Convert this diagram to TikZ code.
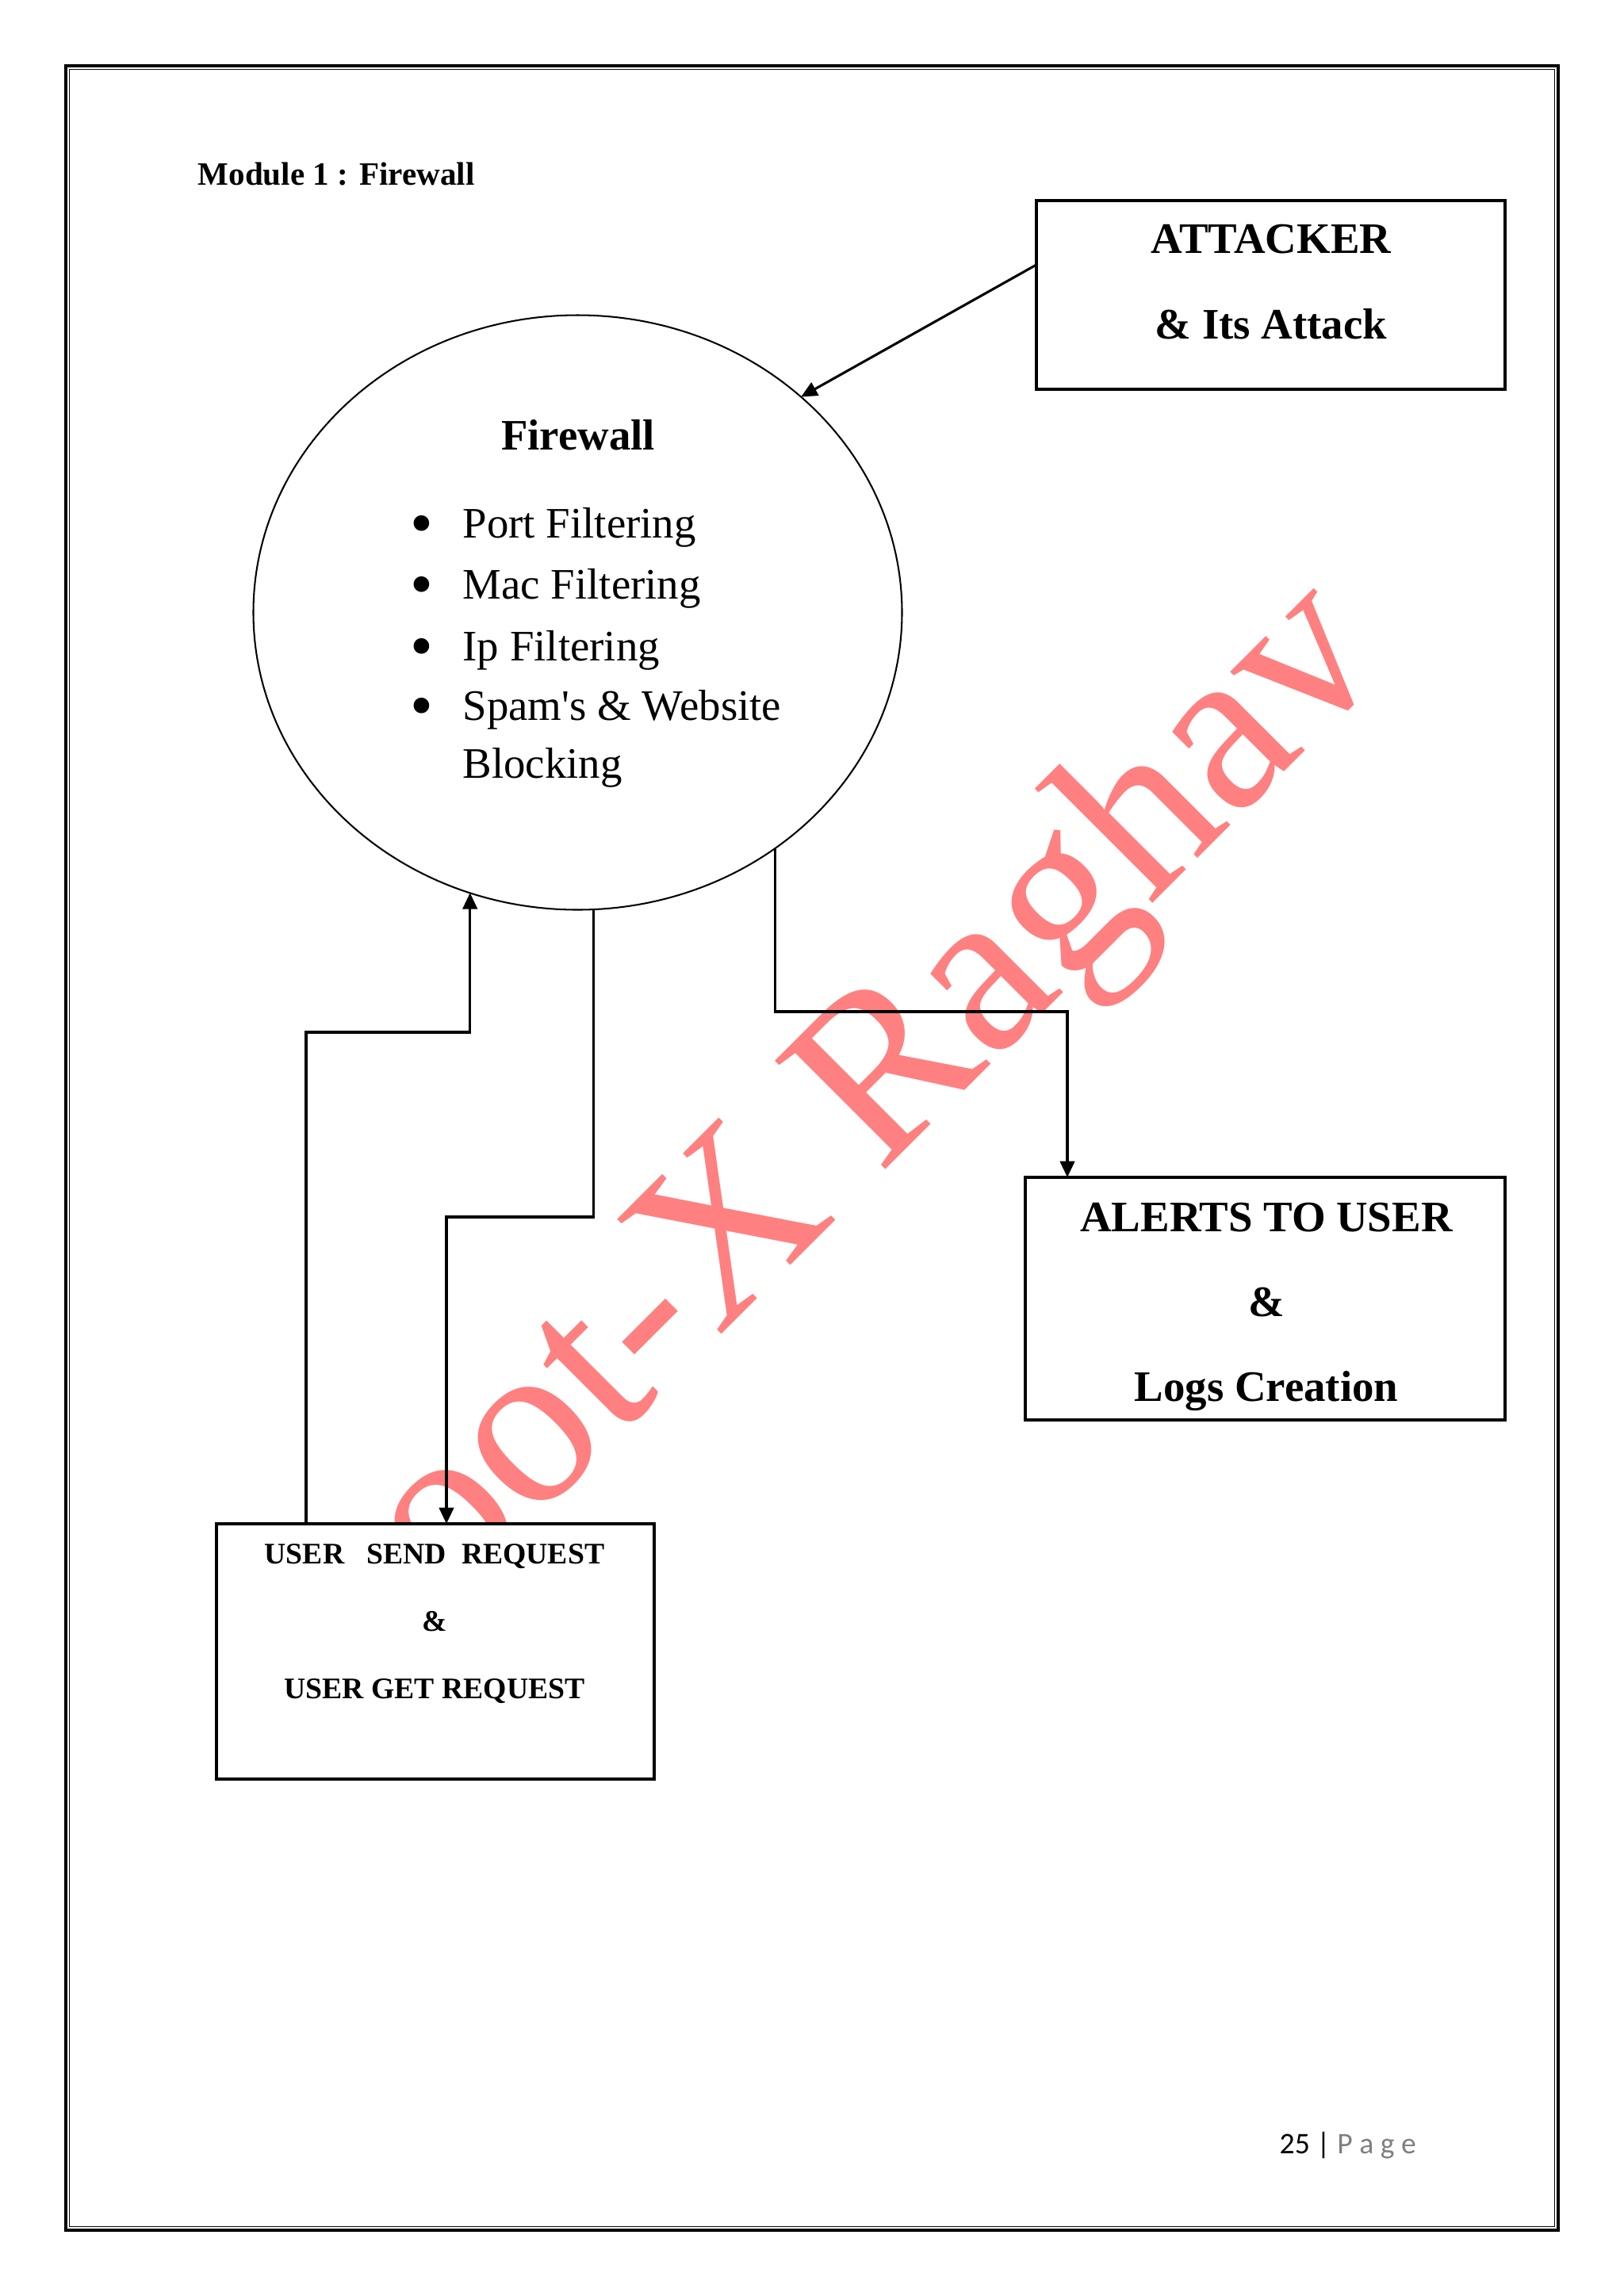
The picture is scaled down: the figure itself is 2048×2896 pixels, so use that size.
\documentclass[tikz,border=0pt]{standalone}
\usepackage{fontspec}
\setmainfont{Liberation Serif}
\newfontfamily\calfont{Carlito}
\usetikzlibrary{shapes.geometric,arrows.meta,calc}
\newcommand\pxu{0.102539mm}
\definecolor{wmred}{RGB}{255,128,128}
\definecolor{pggray}{RGB}{127,127,127}
\begin{document}
\begin{tikzpicture}[x=0.102539mm,y=-0.102539mm,
  box/.style={draw, line width=0.9pt, fill=white, inner sep=0, outer sep=0},
  conn/.style={line width=0.9pt, -{Triangle[length=2.1mm,width=1.9mm]}},
  bigb/.style={font=\fontsize{16}{19}\selectfont\bfseries, inner sep=0},
  reg/.style={font=\fontsize{16}{19}\selectfont, inner sep=0},
  bul/.style={font=\fontsize{24}{24}\selectfont, inner sep=0, anchor=base},
  smallb/.style={font=\fontsize{11}{13}\selectfont\bfseries, inner sep=0},
  titleb/.style={font=\fontsize{12}{14}\selectfont\bfseries, inner sep=0}]
\useasboundingbox (0,0) rectangle (2048,2896);
% page border
\draw[line width=0.9pt] (83,83) rectangle (1965,2813);
\draw[line width=0.5pt] (87.5,87.5) rectangle (1960.5,2808.5);
% watermark
\node[rotate=45, text=wmred, inner sep=0,
      font=\fontsize{87}{97}\selectfont] (wm) at (1039,1453) {Root-X Raghav};
% title
\node[titleb, anchor=base west] (title) at (249,233) {Module 1 : Firewall};
% firewall ellipse
\node[draw, ellipse, line width=0.6pt, inner sep=0, outer sep=0,
      minimum width=818*\pxu, minimum height=750*\pxu] (fw) at (728.5,772.5) {};
\node[bigb, anchor=base] (fwt) at (729,567) {Firewall};
\node[bul] (b1) at (532,687) {\textbullet};
\node[bul] (b2) at (532,764) {\textbullet};
\node[bul] (b3) at (532,842) {\textbullet};
\node[bul] (b4) at (532,917) {\textbullet};
\node[reg, anchor=base west] (i1) at (583,678) {Port Filtering};
\node[reg, anchor=base west] (i2) at (583,755) {Mac Filtering};
\node[reg, anchor=base west] (i3) at (583,833) {Ip Filtering};
\node[reg, anchor=base west] (i4) at (583,908) {Spam\textquotesingle s \& Website};
\node[reg, anchor=base west] (i5) at (583,981) {Blocking};
% attacker box
\node[box, minimum width=591*\pxu, minimum height=238*\pxu] (att) at (1602.5,372) {};
\node[bigb, anchor=base] (att1) at (1603,319) {ATTACKER};
\node[bigb, anchor=base] (att2) at (1603,427) {\& Its Attack};
% alerts box
\node[box, minimum width=605*\pxu, minimum height=306*\pxu] (alr) at (1595.5,1638) {};
\node[bigb, anchor=base] (alr1) at (1597,1553) {ALERTS TO USER};
\node[bigb, anchor=base] (alr2) at (1597,1660) {\&};
\node[bigb, anchor=base] (alr3) at (1597,1767) {Logs Creation};
% user box
\node[box, minimum width=552*\pxu, minimum height=322*\pxu] (usr) at (549,2083) {};
\node[smallb, anchor=base] (usr1) at (548,1972) {USER\ \ \ SEND\ \ REQUEST};
\node[smallb, anchor=base] (usr2) at (548,2057) {\&};
\node[smallb, anchor=base] (usr3) at (548,2142) {USER GET REQUEST};
% connectors
\coordinate (lc) at (386,1302);
\coordinate (mc) at (563,1535);
\coordinate (rc) at (1346,1276);
\draw[conn] ($(att.north west)!0.34!(att.south west)$) -- (fw.44.38);
\draw[conn] (usr.north -| lc) -- (lc) -- (lc -| fw.249.84) -- (fw.249.84);
\draw[conn] (fw.273.29) -- (fw.273.29 |- mc) -- (mc) -- (usr.north -| mc);
\draw[conn] (fw.310.54) -- (fw.310.54 |- rc) -- (rc) -- (alr.north -| rc);
% page number
\node[font=\calfont\fontsize{11}{13}\selectfont, anchor=base west, inner sep=0] (pg) at (1613,2716)
  {25 | \textcolor{pggray}{P a g e}};
\end{tikzpicture}
\end{document}
